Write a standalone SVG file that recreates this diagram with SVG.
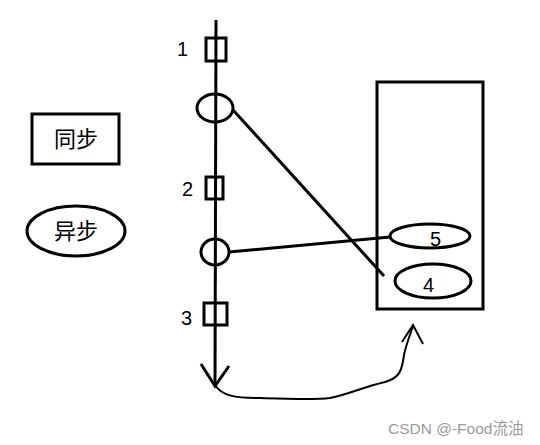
<svg xmlns="http://www.w3.org/2000/svg" width="540" height="445" viewBox="0 0 540 445">
<style>
.s{fill:none;stroke:#000;stroke-width:3}
.n{font-family:"Liberation Sans",Arial,sans-serif;font-size:20px;fill:#000}
.c{font-family:"Noto Sans CJK SC","Liberation Sans",sans-serif;font-size:22px;fill:#000}
</style>
<rect width="540" height="445" fill="#fff"/>
<g id="connectors">
<line class="s" x1="216" y1="20" x2="215" y2="386"/>
<polyline class="s" points="201,364 215,386 229,366"/>
<line class="s" x1="233" y1="110" x2="384" y2="276"/>
<line class="s" x1="229" y1="252" x2="390" y2="237"/>
<path fill="none" stroke="#000" stroke-width="2" d="M215,385 C222,396 235,398 260,398 C290,399 315,400 330,398 C350,394 360,388 385,382 C400,378 402,370 404,355 C406,345 410,335 413,326"/>
<polyline fill="none" stroke="#000" stroke-width="2" points="402,342 413,325 423,344"/>
</g>
<g id="box1"><rect class="s" x="206" y="38" width="20" height="23"/><text class="n" x="177" y="56">1</text></g>
<g id="circle-top"><ellipse class="s" cx="215" cy="108" rx="18" ry="14"/></g>
<g id="box2"><rect class="s" x="206" y="177" width="17" height="22"/><text class="n" x="182" y="196">2</text></g>
<g id="circle-mid"><ellipse class="s" cx="215" cy="252" rx="14" ry="13"/></g>
<g id="box3"><rect class="s" x="204" y="303" width="23" height="22"/><text class="n" x="181" y="325">3</text></g>
<g id="queue"><rect class="s" x="377" y="82" width="106" height="227"/></g>
<g id="task5"><ellipse class="s" cx="430" cy="236" rx="40" ry="12"/><text class="n" x="430" y="246">5</text></g>
<g id="task4"><ellipse class="s" cx="433" cy="281" rx="38" ry="17"/><text class="n" x="423" y="292">4</text></g>
<g id="sync"><rect class="s" x="32" y="114" width="87" height="50"/><text class="c" x="76" y="147" text-anchor="middle">同步</text></g>
<g id="async"><ellipse class="s" cx="76" cy="231" rx="49" ry="25"/><text class="c" x="76" y="239" text-anchor="middle">异步</text></g>
<text x="388" y="434" font-family="'Liberation Sans','Noto Sans CJK SC',sans-serif" font-size="15.5" fill="#9a9a9a">CSDN @-Food流油</text>
</svg>
